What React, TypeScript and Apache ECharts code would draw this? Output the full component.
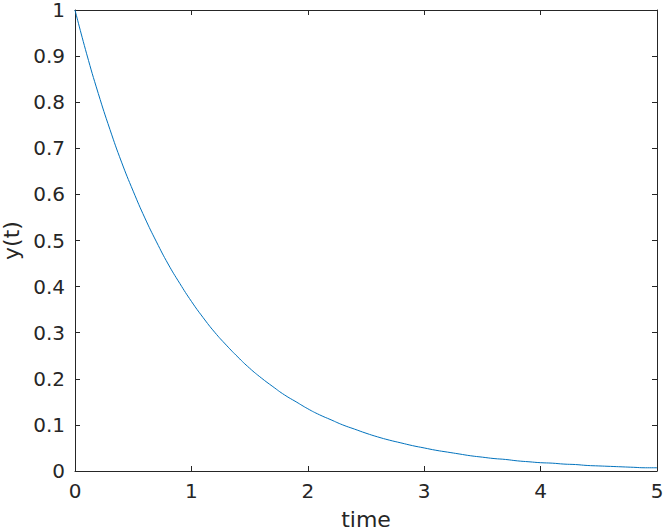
import React, { useEffect, useRef } from "react";
import * as echarts from "echarts";

const tValues = [
  0, 0.1, 0.2, 0.3, 0.4, 0.5, 0.6, 0.7, 0.8, 0.9,
  1.0, 1.1, 1.2, 1.3, 1.4, 1.5, 1.6, 1.7, 1.8, 1.9,
  2.0, 2.1, 2.2, 2.3, 2.4, 2.5, 2.6, 2.7, 2.8, 2.9,
  3.0, 3.1, 3.2, 3.3, 3.4, 3.5, 3.6, 3.7, 3.8, 3.9,
  4.0, 4.1, 4.2, 4.3, 4.4, 4.5, 4.6, 4.7, 4.8, 4.9, 5.0,
];
const yValues = [
  1.0, 0.905, 0.819, 0.741, 0.67, 0.607, 0.549, 0.497, 0.449, 0.407,
  0.368, 0.333, 0.301, 0.273, 0.247, 0.223, 0.202, 0.183, 0.165, 0.15,
  0.135, 0.122, 0.111, 0.1, 0.091, 0.082, 0.074, 0.067, 0.061, 0.055,
  0.05, 0.045, 0.041, 0.037, 0.033, 0.03, 0.027, 0.025, 0.022, 0.02,
  0.018, 0.017, 0.015, 0.014, 0.012, 0.011, 0.01, 0.009, 0.008, 0.007, 0.007,
];
const xTicks = [0, 1, 2, 3, 4, 5];
const yTicks = [0, 0.1, 0.2, 0.3, 0.4, 0.5, 0.6, 0.7, 0.8, 0.9, 1];

const AXIS = "#262626";
const FONT = "DejaVu Sans";

export default function App() {
  const ref = useRef<HTMLDivElement>(null);
  useEffect(() => {
    if (!ref.current) return;
    const chart = echarts.init(ref.current, undefined, { renderer: "svg" });
    const common = {
      axisLine: { show: true, onZero: false, lineStyle: { color: AXIS, width: 1 } },
      axisTick: { show: true, inside: true, length: 5, lineStyle: { color: AXIS, width: 1 } },
      splitLine: { show: false },
    };
    chart.setOption({
      animation: false,
      backgroundColor: "#ffffff",
      grid: {
        left: 75,
        right: 8,
        top: 10,
        bottom: 60,
        containLabel: false,
        outerBoundsMode: "none",
      },
      xAxis: [
        {
          type: "value",
          min: 0,
          max: 5,
          interval: 1,
          position: "bottom",
          name: "time",
          nameLocation: "middle",
          nameGap: 37,
          nameTextStyle: { color: AXIS, fontFamily: FONT, fontSize: 22 },
          axisLabel: {
            color: AXIS,
            fontFamily: FONT,
            fontSize: 20,
            margin: 10,
            formatter: (v: number) => (xTicks.includes(v) ? String(v) : ""),
          },
          ...common,
        },
        {
          type: "value",
          min: 0,
          max: 5,
          interval: 1,
          position: "top",
          axisLabel: { show: false },
          ...common,
        },
      ],
      yAxis: [
        {
          type: "value",
          min: 0,
          max: 1,
          interval: 0.1,
          position: "left",
          name: "y(t)",
          nameLocation: "middle",
          nameGap: 52,
          nameRotate: 90,
          nameTextStyle: { color: AXIS, fontFamily: FONT, fontSize: 22 },
          axisLabel: {
            color: AXIS,
            fontFamily: FONT,
            fontSize: 20,
            lineHeight: 18,
            margin: 10,
            formatter: (v: number) => {
              const r = Math.round(v * 10) / 10;
              return yTicks.includes(r) ? String(r) : "";
            },
          },
          ...common,
        },
        {
          type: "value",
          min: 0,
          max: 1,
          interval: 0.1,
          position: "right",
          axisLabel: { show: false },
          ...common,
        },
      ],
      series: [
        {
          type: "line",
          data: tValues.map((t, i) => [t, yValues[i]]),
          showSymbol: false,
          smooth: true,
          lineStyle: { color: "#0072BD", width: 1 },
          xAxisIndex: 0,
          yAxisIndex: 0,
        },
      ],
    });
    return () => chart.dispose();
  }, []);
  return (
    <div
      ref={ref}
      style={{ position: "fixed", left: 0, top: 0, width: 665, height: 531 }}
    />
  );
}
